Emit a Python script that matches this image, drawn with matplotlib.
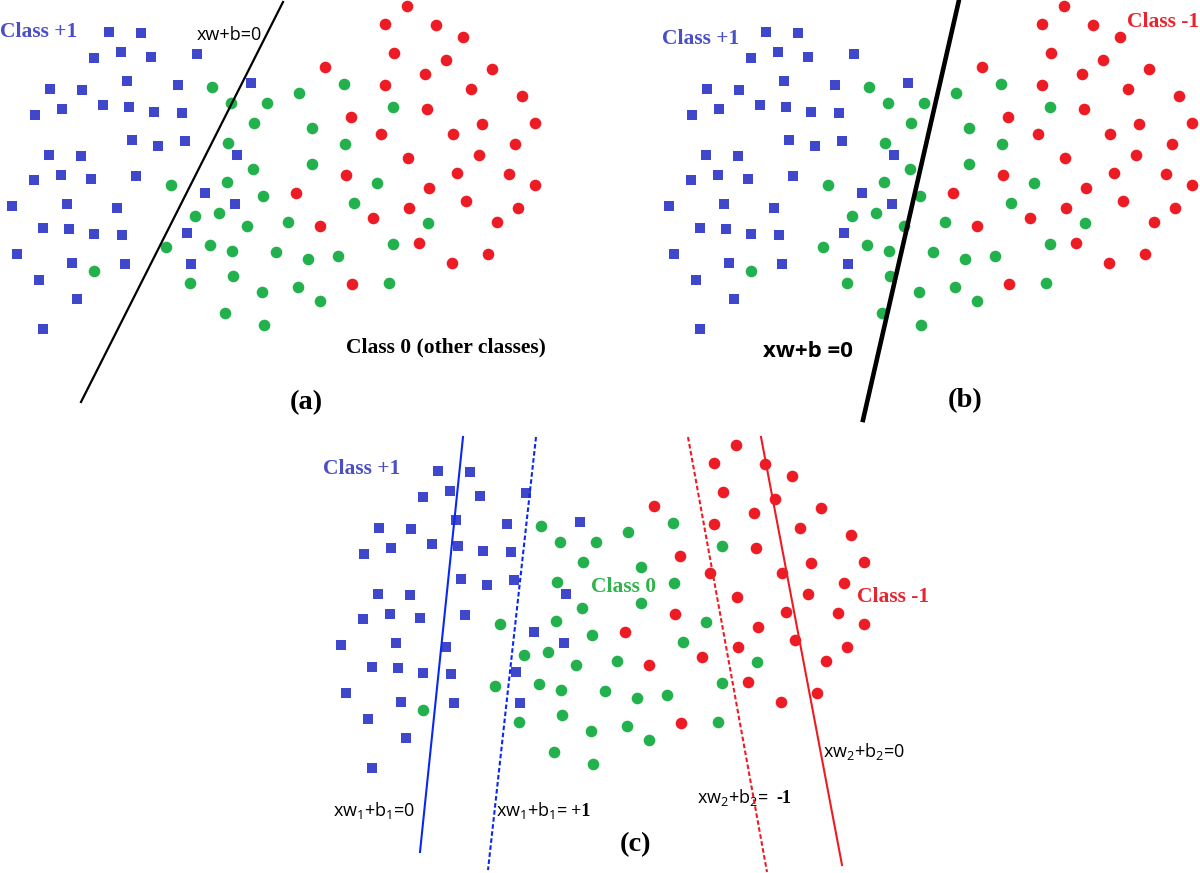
import matplotlib
matplotlib.use('Agg')
import matplotlib.pyplot as plt

plt.rcParams['mathtext.fontset'] = 'custom'
plt.rcParams['mathtext.rm'] = 'Open Sans'
plt.rcParams['mathtext.it'] = 'Open Sans:italic'

# toy data set (same cloud is drawn in all three panels)
blue_x = [109, 141, 94, 121, 151, 197, 50, 82, 127, 178, 251, 35, 62, 103, 129,
          154, 182, 132, 158, 185, 237, 49, 81, 34, 61, 91, 136, 205, 235, 12,
          67, 117, 43, 69, 94, 122, 187, 17, 72, 125, 191, 39, 77, 43]
blue_y = [32, 33, 58, 52, 57, 54, 89, 90, 81, 85, 83, 115, 109, 105, 107,
          112, 113, 140, 146, 141, 155, 155, 156, 180, 175, 179, 176, 193, 204, 206,
          204, 208, 228, 229, 234, 235, 233, 254, 263, 264, 264, 280, 299, 329]

green_x = [212, 231, 267, 299, 344, 393, 254, 312, 345, 228, 312, 253, 227, 171,
           377, 263, 354, 195, 219, 247, 288, 428, 166, 210, 232, 276, 308, 338,
           393, 94, 190, 233, 262, 298, 320, 389, 225, 264]
green_y = [87, 103, 103, 93, 84, 107, 123, 128, 144, 143, 164, 169, 182, 185,
           183, 196, 203, 216, 213, 226, 222, 223, 247, 245, 251, 252, 259, 256,
           244, 271, 283, 276, 292, 287, 301, 283, 313, 325]

red_x = [407, 385, 436, 463, 394, 446, 325, 425, 492, 385, 471, 522, 427, 351,
         482, 535, 381, 453, 515, 408, 479, 346, 457, 509, 535, 429, 296, 466,
         409, 518, 373, 497, 320, 419, 488, 452, 352]
red_y = [6, 24, 25, 37, 53, 60, 67, 74, 69, 85, 89, 96, 109, 117,
         124, 123, 134, 134, 144, 158, 155, 175, 173, 174, 185, 188, 193, 201,
         208, 208, 218, 222, 226, 243, 254, 263, 284]

# separating lines (end points)
line_a = ([283, 81], [2, 402])
line_b = ([302, 206], [0, 420])
line_c_plus_solid = ([134, 91], [-2, 413])
line_c_plus_dash = ([207, 159], [-2, 431])
line_c_minus_dash = ([359, 438], [-2, 433])
line_c_minus_solid = ([432, 513], [-2, 426])

BLUE = '#3f48cc'
GREEN = '#22b14c'
RED = '#ed1c24'
TXT_BLUE = '#4b4fc6'
TXT_RED = '#e8242e'
TXT_GREEN = '#2fb34a'

W, H = 1200, 873
X0, X1, Y0, Y1 = -20, 620, -5, 440

fig = plt.figure(figsize=(12, 8.73), dpi=100)


def make_panel(ox, oy):
    ax = fig.add_axes([(ox + X0) / W, 1 - (oy + Y1) / H,
                       (X1 - X0) / W, (Y1 - Y0) / H])
    ax.set_xlim(X0, X1)
    ax.set_ylim(Y1, Y0)
    ax.axis('off')
    ax.patch.set_visible(False)
    ax.scatter(blue_x, blue_y, marker='s', s=58, color=BLUE, linewidths=0)
    ax.scatter(green_x, green_y, marker='o', s=70, color=GREEN, linewidths=0)
    ax.scatter(red_x, red_y, marker='o', s=70, color=RED, linewidths=0)
    return ax


serif = dict(family='Liberation Serif', weight='bold')
sans = dict(family='Open Sans')

# (a)
ax = make_panel(0, 0)
ax.plot(*line_a, color='black', lw=1.6, zorder=5)
ax.text(0, 37, 'Class +1', color=TXT_BLUE, fontsize=15.5, **serif)
ax.text(197, 40, 'xw+b=0', color='black', fontsize=13, **sans)
ax.text(346, 352, 'Class 0 (other classes)', color='black', fontsize=15.5, **serif)
ax.text(290, 409, '(a)', color='black', fontsize=20.5, **serif)

# (b)
ax = make_panel(657, 0)
ax.plot(*line_b, color='black', lw=3.3, zorder=5)
ax.text(5, 44, 'Class +1', color=TXT_BLUE, fontsize=15.5, **serif)
ax.text(470, 27, 'Class -1', color=TXT_RED, fontsize=15.5, **serif)
ax.text(106, 357, 'xw+b =0', color='black', fontsize=16, weight='bold', family='Open Sans')
ax.text(291, 407, '(b)', color='black', fontsize=20.5, **serif)

# (c)
ax = make_panel(329, 439)
ax.plot(*line_c_plus_solid, color='#0a28f0', lw=1.5, zorder=5)
ax.plot(*line_c_plus_dash, color='#0a28f0', lw=1.5, ls=(0, (2.2, 1.2)), zorder=5)
ax.plot(*line_c_minus_dash, color=RED, lw=1.5, ls=(0, (2.2, 1.2)), zorder=5)
ax.plot(*line_c_minus_solid, color=RED, lw=1.5, zorder=5)
ax.text(-6, 35, 'Class +1', color=TXT_BLUE, fontsize=15.5, **serif)
ax.text(262, 153, 'Class 0', color=TXT_GREEN, fontsize=15.5, **serif)
ax.text(528, 163, 'Class -1', color=TXT_RED, fontsize=15.5, **serif)
ax.text(4, 377, r'xw$_1$+b$_1$=0', color='black', fontsize=13, **sans)
ax.text(167, 377, r'xw$_1$+b$_1$=', color='black', fontsize=13, **sans)
ax.text(242, 377, '+1', color='black', fontsize=13, **serif)
ax.text(368, 364, r'xw$_2$+b$_2$=', color='black', fontsize=13, **sans)
ax.text(447, 364, '-1', color='black', fontsize=13, **serif)
ax.text(494, 318, r'xw$_2$+b$_2$=0', color='black', fontsize=13, **sans)
ax.text(291, 412, '(c)', color='black', fontsize=20.5, **serif)

fig.savefig('out.png', dpi=100)
